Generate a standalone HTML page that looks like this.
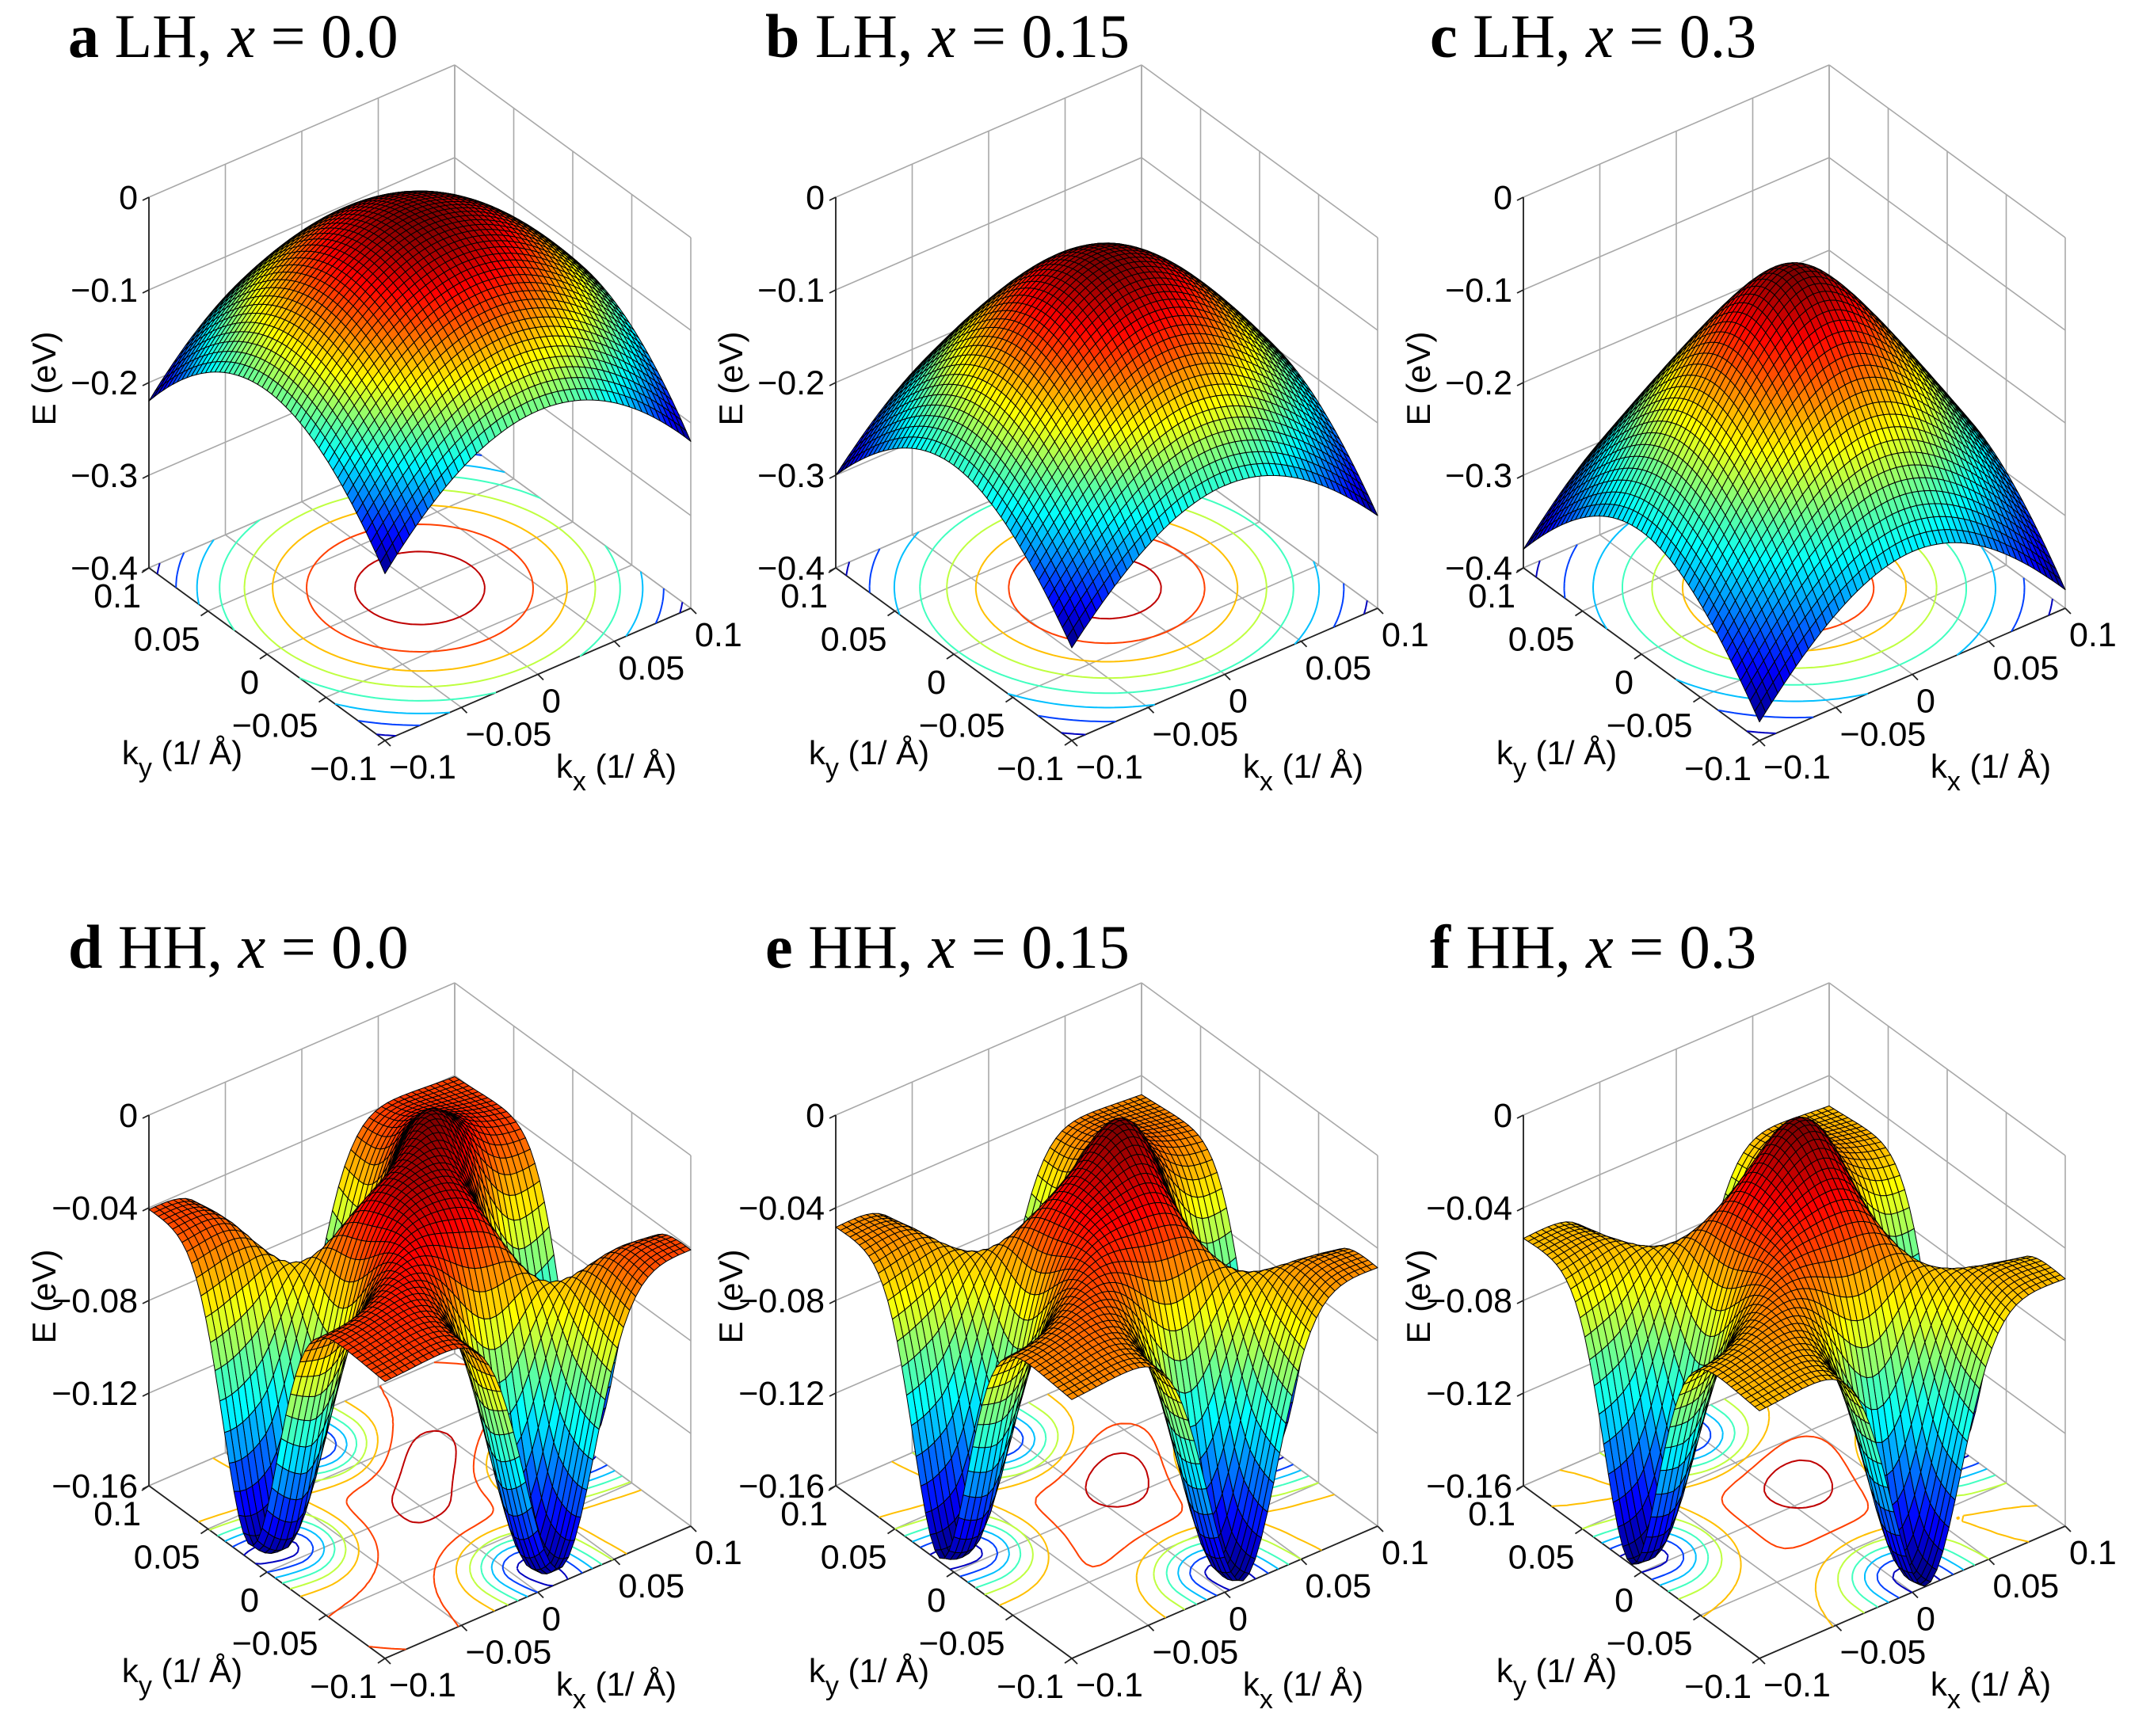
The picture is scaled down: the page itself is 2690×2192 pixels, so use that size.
<!DOCTYPE html>
<html>
<head>
<meta charset="utf-8">
<style>
  html, body { margin:0; padding:0; background:#ffffff; }
  #fig { display:block; }
</style>
</head>
<body>
<svg id="fig" xmlns="http://www.w3.org/2000/svg" width="2690" height="2192" viewBox="0 0 2690 2192">
  <rect x="0" y="0" width="2690" height="2192" fill="#ffffff"/>
</svg>
<script>
// ---------- panel metadata ----------
const panelLetters = ['a','b','c','d','e','f'];
const panelBands = ['LH','LH','LH','HH','HH','HH'];
const panelXValues = ['0.0','0.15','0.3','0.0','0.15','0.3'];
// ---------- LH model parameters ----------
const lhPeak = [0.0, -0.045, -0.056];
const lhCorner = [-0.22, -0.30, -0.38];
const lhWidth = [0.2, 0.07, 0.028];
// ---------- HH model parameters ----------
const hhEdge = [-0.042, -0.05, -0.055];
const hhCenter = [-0.018, -0.022, -0.025];
const hhPeak = [0.0, 0.0, 0.0];
const hhHumpKx = [0.035, 0.03, 0.02];
const hhHumpKy = [0.035, 0.02, 0.02];
const hhHumpWidth = [0.022, 0.022, 0.024];
const hhWellA = [0.08, 0.084, 0.087];
const hhWellB = [0.012, 0.01, 0.008];
const hhWellMin = [-0.16, -0.16, -0.16];
const hhWellInnerWidth = [0.024, 0.024, 0.024];
const hhWellOuterWidth = [0.05, 0.055, 0.055];
const hhWellTangentWidth = [0.023, 0.023, 0.023];
// ---------- ticks ----------
const zTicksLH = [0, -0.1, -0.2, -0.3, -0.4];
const zTickLabelsLH = ['0', '\u22120.1', '\u22120.2', '\u22120.3', '\u22120.4'];
const zTicksHH = [0, -0.04, -0.08, -0.12, -0.16];
const zTickLabelsHH = ['0', '\u22120.04', '\u22120.08', '\u22120.12', '\u22120.16'];
const kTicks = [-0.1, -0.05, 0, 0.05, 0.1];
const kTickLabels = ['\u22120.1', '\u22120.05', '0', '0.05', '0.1'];
const contourCount = 8;

// ---------- layout (not data) ----------
const originX = [188, 1055, 1923, 188, 1055, 1923];
const originY = [717, 717, 717, 1876, 1876, 1876];
const titleX = [86, 966, 1805, 86, 966, 1805];
const titleY = [72, 72, 72, 1222, 1222, 1222];
const NCELL = 50;
const ZH = 468;
const SVGNS = 'http://www.w3.org/2000/svg';
const svg = document.getElementById('fig');

function zMinOf(p){ return p < 3 ? -0.4 : -0.16; }
function proj(p, kx, ky, z){
  const u = (kx + 0.1) / 0.2, v = (ky + 0.1) / 0.2;
  const Fx = originX[p] + 298, Fy = originY[p] + 218;
  const zmin = zMinOf(p);
  return [Fx + 386*u - 298*v, Fy - 167*u - 218*v - (z - zmin)/(-zmin)*ZH];
}
function jet(t){
  t = Math.max(0, Math.min(1, t));
  const c = x => Math.round(255*Math.max(0, Math.min(1, x)));
  return 'rgb(' + c(1.5-Math.abs(4*t-3)) + ',' + c(1.5-Math.abs(4*t-2)) + ',' + c(1.5-Math.abs(4*t-1)) + ')';
}
function energyLH(i, kx, ky){
  const w = lhWidth[i];
  const a = (lhPeak[i] - lhCorner[i]) / (Math.sqrt(0.02 + w*w) - w);
  return lhPeak[i] - a*(Math.sqrt(kx*kx + ky*ky + w*w) - w);
}
function wellCenters(i){
  const A = hhWellA[i], B = hhWellB[i];
  return [[-A, B], [B, -A], [A, -B], [-B, A]];
}
function hhBase(i, kx, ky){
  const r2 = kx*kx + ky*ky;
  const dx = kx - hhHumpKx[i], dy = ky - hhHumpKy[i], s = hhHumpWidth[i];
  const broad = hhEdge[i] + (hhCenter[i] - hhEdge[i]) * Math.exp(-r2/(2*0.06*0.06));
  return broad + (hhPeak[i] - hhCenter[i]) * Math.exp(-(dx*dx+dy*dy)/(2*s*s));
}
function hhWells(i, kx, ky){
  const st = hhWellTangentWidth[i];
  let g = 0;
  for (const w of wellCenters(i)) {
    const len = Math.hypot(w[0], w[1]);
    const ux = w[0]/len, uy = w[1]/len;
    const dx = kx - w[0], dy = ky - w[1];
    const dr = dx*ux + dy*uy, dt = -dx*uy + dy*ux;
    const sr = dr < 0 ? hhWellInnerWidth[i] : hhWellOuterWidth[i];
    g += Math.exp(-(dr*dr)/(2*sr*sr) - (dt*dt)/(2*st*st));
  }
  return g;
}
function energyHH(i, kx, ky){
  const wc = wellCenters(i)[0];
  const D = (hhBase(i, wc[0], wc[1]) - hhWellMin[i]) / hhWells(i, wc[0], wc[1]);
  return hhBase(i, kx, ky) - D * hhWells(i, kx, ky);
}
function mk(tag, attrs){
  const el = document.createElementNS(SVGNS, tag);
  for (const k in attrs) el.setAttribute(k, attrs[k]);
  return el;
}
function line(g, a, b, stroke, w){
  const el = mk('line', {x1:a[0].toFixed(1), y1:a[1].toFixed(1), x2:b[0].toFixed(1), y2:b[1].toFixed(1), stroke:stroke, 'stroke-width':w});
  g.appendChild(el);
  return el;
}

for (let p = 0; p < 6; p++) {
  const isLH = p < 3, idx = p % 3;
  const zmin = zMinOf(p);
  const zTicks = isLH ? zTicksLH : zTicksHH;
  const zLabels = isLH ? zTickLabelsLH : zTickLabelsHH;
  const g = mk('g', {});
  
  
  svg.appendChild(g);

  const title = mk('text', {x:titleX[p], y:titleY[p], 'font-family':'"Liberation Serif", serif', 'font-size':78, fill:'#000'});
  
  
  title.innerHTML = '<tspan font-weight="bold">' + panelLetters[p] + '</tspan> ' + panelBands[p] + ', <tspan font-style="italic">x</tspan> = ' + panelXValues[p];
  g.appendChild(title);

  const grid = mk('g', {});
  
  
  g.appendChild(grid);
  const gc = '#a8a8a8', gw = 1.6;
  for (const t of kTicks) {
    line(grid, proj(p, t, -0.1, zmin), proj(p, t, 0.1, zmin), gc, gw);
    line(grid, proj(p, -0.1, t, zmin), proj(p, 0.1, t, zmin), gc, gw);
    line(grid, proj(p, t, 0.1, zmin), proj(p, t, 0.1, 0), gc, gw);
    line(grid, proj(p, 0.1, t, zmin), proj(p, 0.1, t, 0), gc, gw);
  }
  for (const z of zTicks) {
    line(grid, proj(p, -0.1, 0.1, z), proj(p, 0.1, 0.1, z), gc, gw);
    line(grid, proj(p, 0.1, 0.1, z), proj(p, 0.1, -0.1, z), gc, gw);
  }

  const axes = mk('g', {});
  
  
  g.appendChild(axes);
  line(axes, proj(p, -0.1, 0.1, zmin), proj(p, -0.1, 0.1, 0), '#222', 1.8);
  line(axes, proj(p, -0.1, 0.1, zmin), proj(p, -0.1, -0.1, zmin), '#222', 1.8);
  line(axes, proj(p, -0.1, -0.1, zmin), proj(p, 0.1, -0.1, zmin), '#222', 1.8);
  const font = '"Liberation Sans", sans-serif';
  for (let k = 0; k < zTicks.length; k++) {
    const q = proj(p, -0.1, 0.1, zTicks[k]);
    line(axes, q, [q[0]-8, q[1]+4], '#222', 1.8);
    const t = mk('text', {x:(q[0]-14).toFixed(1), y:(q[1]+15).toFixed(1), 'text-anchor':'end', 'font-family':font, 'font-size':43, fill:'#000'});
    
    
    t.textContent = zLabels[k];
    axes.appendChild(t);
  }
  for (let k = 0; k < kTicks.length; k++) {
    const qy = proj(p, -0.1, kTicks[k], zmin);
    line(axes, qy, [qy[0]-9, qy[1]+6], '#222', 1.8);
    const ty = mk('text', {x:(qy[0]-10).toFixed(1), y:(qy[1]+50).toFixed(1), 'text-anchor':'end', 'font-family':font, 'font-size':43, fill:'#000'});
    
    
    ty.textContent = kTickLabels[k];
    axes.appendChild(ty);
    const qx = proj(p, kTicks[k], -0.1, zmin);
    line(axes, qx, [qx[0]+7, qx[1]+7], '#222', 1.8);
    const tx = mk('text', {x:(qx[0]+5).toFixed(1), y:(qx[1]+48).toFixed(1), 'text-anchor':'start', 'font-family':font, 'font-size':43, fill:'#000'});
    
    
    tx.textContent = kTickLabels[k];
    axes.appendChild(tx);
  }
  const L = proj(p, -0.1, 0.1, zmin);
  const ez = mk('text', {x:0, y:0, 'text-anchor':'middle', 'font-family':font, 'font-size':42, fill:'#000', transform:'translate(' + (L[0]-118) + ',' + (L[1]-ZH/2-5) + ') rotate(-90)'});
  
  
  ez.textContent = 'E (eV)';
  axes.appendChild(ez);
  const ky = mk('text', {x:L[0]+42, y:L[1]+248, 'text-anchor':'middle', 'font-family':'"Liberation Sans", "Noto Sans CJK JP", sans-serif', 'font-size':42, fill:'#000'});
  
  
  ky.innerHTML = 'k<tspan dy="16" font-size="34">y</tspan><tspan dy="-16"> (1/ Å)</tspan>';
  axes.appendChild(ky);
  const kxT = mk('text', {x:L[0]+590, y:L[1]+265, 'text-anchor':'middle', 'font-family':'"Liberation Sans", "Noto Sans CJK JP", sans-serif', 'font-size':42, fill:'#000'});
  
  
  kxT.innerHTML = 'k<tspan dy="16" font-size="34">x</tspan><tspan dy="-16"> (1/ Å)</tspan>';
  axes.appendChild(kxT);

  const V = [];
  let vmin = Infinity, vmax = -Infinity;
  for (let i = 0; i <= NCELL; i++) {
    V.push([]);
    for (let j = 0; j <= NCELL; j++) {
      const kx = -0.1 + 0.2*i/NCELL, kyv = -0.1 + 0.2*j/NCELL;
      const e = isLH ? energyLH(idx, kx, kyv) : energyHH(idx, kx, kyv);
      V[i].push(e);
      vmin = Math.min(vmin, e); vmax = Math.max(vmax, e);
    }
  }
  const kAt = i => -0.1 + 0.2*i/NCELL;

  const cg = mk('g', {fill:'none', 'stroke-width':2});
  
  
  g.appendChild(cg);
  for (let c = 0; c < contourCount; c++) {
    const lev = vmin + (c + 0.5) * (vmax - vmin) / contourCount;
    let d = '';
    for (let i = 0; i < NCELL; i++) {
      for (let j = 0; j < NCELL; j++) {
        const cs = [[i,j],[i+1,j],[i+1,j+1],[i,j+1]];
        const pts = [];
        for (let e = 0; e < 4; e++) {
          const A = cs[e], B = cs[(e+1)%4];
          const va = V[A[0]][A[1]], vb = V[B[0]][B[1]];
          if ((va - lev) * (vb - lev) < 0) {
            const t = (lev - va) / (vb - va);
            const kx = kAt(A[0]) + t*(kAt(B[0]) - kAt(A[0]));
            const kyv = kAt(A[1]) + t*(kAt(B[1]) - kAt(A[1]));
            pts.push(proj(p, kx, kyv, zmin));
          }
        }
        for (let s = 0; s + 1 < pts.length; s += 2) {
          d += 'M' + pts[s][0].toFixed(1) + ' ' + pts[s][1].toFixed(1) + 'L' + pts[s+1][0].toFixed(1) + ' ' + pts[s+1][1].toFixed(1);
        }
      }
    }
    const path = mk('path', {d:d, stroke:jet((lev - vmin)/(vmax - vmin))});
    
    
    cg.appendChild(path);
  }

  const sg = mk('g', {stroke:'#000', 'stroke-width':1, 'stroke-linejoin':'round'});
  
  
  g.appendChild(sg);
  const cells = [];
  for (let i = 0; i < NCELL; i++) {
    for (let j = 0; j < NCELL; j++) {
      const u = (i + 0.5)/NCELL, v = (j + 0.5)/NCELL;
      cells.push([i, j, 167*u + 218*v]);
    }
  }
  cells.sort((a, b) => b[2] - a[2]);
  for (const cell of cells) {
    const i = cell[0], j = cell[1];
    const cs = [[i,j],[i+1,j],[i+1,j+1],[i,j+1]];
    let avg = 0, pts = '';
    for (const q of cs) {
      const z = V[q[0]][q[1]];
      avg += z/4;
      const s = proj(p, kAt(q[0]), kAt(q[1]), z);
      pts += s[0].toFixed(1) + ',' + s[1].toFixed(1) + ' ';
    }
    const poly = mk('polygon', {points:pts, fill:jet((avg - vmin)/(vmax - vmin))});
    
    
    sg.appendChild(poly);
  }
}
</script>
</body>
</html>
